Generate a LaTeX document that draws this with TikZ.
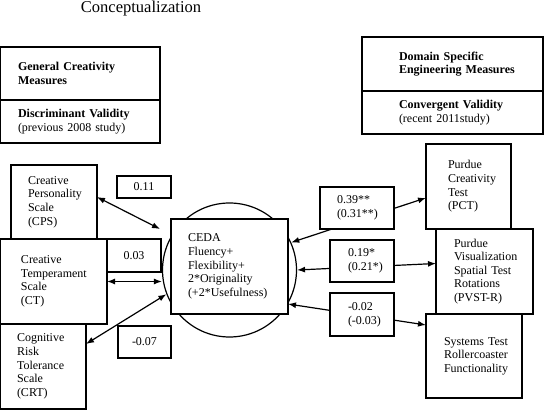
\documentclass[tikz,border=0pt]{standalone}
\usepackage{fontspec}
\setmainfont{Liberation Serif}
\usetikzlibrary{arrows.meta,positioning}
\hyphenpenalty=10000
\exhyphenpenalty=10000

\begin{document}
\begin{tikzpicture}[x=0.75pt,y=-0.75pt,line width=0.9pt,>={Latex[length=6pt,width=4.5pt]},
  box/.style n args={4}{draw,fill=white,outer sep=0pt,align=left,font=\fontsize{9}{10.2}\selectfont,
    minimum width=#1,minimum height=#2,inner xsep=#3,text width=#4},
  val/.style 2 args={draw,fill=white,outer sep=0pt,font=\fontsize{9}{10.2}\selectfont,
    minimum width=#1,minimum height=#2}]
\useasboundingbox (0,0) rectangle (544,410);
%\draw[help lines](0,0)grid(544,410);
\node (title) at (141,8.5) {\fontsize{12.4}{14}\selectfont Conceptualization};
% headings
\node[box={120pt}{39.75pt}{13.5pt}{93pt}] (gcm) at (80,73.5) {\textbf{General Creativity}\\\textbf{Measures}};
\node[box={120pt}{32.25pt}{13.5pt}{93pt},below=0pt of gcm] (gcmval) {\textbf{Discriminant Validity}\\(previous 2008 study)};
\node[box={135.75pt}{40.5pt}{27.75pt}{80.25pt}] (dsm) at (452.5,64) {\textbf{Domain Specific}\\\textbf{Engineering~Measures}};
\node[box={135.75pt}{32.25pt}{27.75pt}{80.25pt},below=0pt of dsm] (dsmval) {\textbf{Convergent Validity}\\(recent 2011study)};
% left measures
\node[box={64.5pt}{55.5pt}{12.75pt}{39pt}] (cps) at (54,202) {Creative\\Personality\\Scale\\(CPS)};
\node[box={80.25pt}{63.75pt}{15.75pt}{48.75pt}] (ct) at (53.5,281.5) {Creative\\Temperament\\Scale\\(CT)};
\node[box={64.5pt}{63.75pt}{12.75pt}{39pt}] (crt) at (43,366.5) {Cognitive\\Risk\\Tolerance\\Scale\\(CRT)};
% CEDA
\node[circle,draw,minimum size=100.5pt,inner sep=0pt] (cc) at (229.5,270) {};
\node[box={87.75pt}{71.25pt}{12.75pt}{62.25pt}] (ceda) at (229.5,266.5) {CEDA\\Fluency+\\Flexibility+\\2*Originality\\(+2*Usefulness)};
% right measures
\node[box={63.75pt}{63.75pt}{16.5pt}{30.75pt}] (pct) at (468.5,186.5) {Purdue\\Creativity\\Test\\(PCT)};
\node[box={72.75pt}{63.75pt}{13.5pt}{45.75pt}] (pvst) at (484.5,271.5) {Purdue\\Visualization\\Spatial~Test\\Rotations\\(PVST-R)};
\node[box={72pt}{63pt}{13.5pt}{45pt}] (sys) at (474,356) {Systems~Test\\Rollercoaster\\Functionality};
% correlations
\draw[<->] ([yshift=3.75pt]cps.east) -- ([xshift=-8.25pt,yshift=-7.5pt]ceda.north west);
\draw[<->] (ct.east) -- (ct.east -| cc.west);
\draw[<->] ([yshift=-15pt]crt.north east) -- (cc.201);
\draw[<->] (cc.24) -- ([yshift=-8.5pt]pct.west);
\draw[<->] (cc.east) -- ([yshift=6pt]pvst.west);
\draw[<->] ([yshift=7.5pt]ceda.south east) -- ([yshift=-8.25pt]sys.north west);
% values
\node[val={40.5pt}{16.5pt}] (v011) at (144,187) {0.11};
\node[val={40.5pt}{24.75pt}] (v003) at (134,255.5) {0.03};
\node[val={39.75pt}{24pt}] (v007) at (144.5,342) {-0.07};
\node[box={55.5pt}{31.5pt}{12.75pt}{30pt}] (v039) at (357,208) {0.39**\\(0.31**)};
\node[box={48pt}{31.5pt}{13.5pt}{21pt}] (v019) at (362,261) {0.19*\\(0.21*)};
\node[box={48pt}{32.25pt}{13.5pt}{21pt}] (v002) at (362,314.5) {-0.02\\(-0.03)};
\end{tikzpicture}
\end{document}
